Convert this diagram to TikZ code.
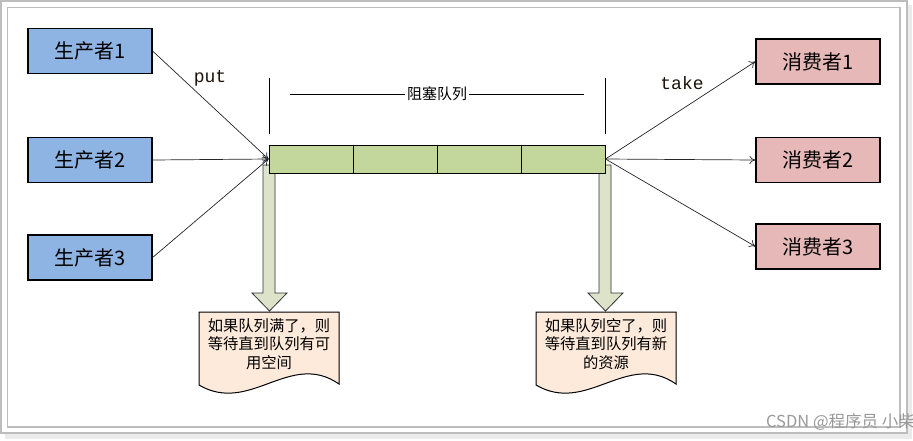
\documentclass[tikz,border=0pt]{standalone}
\usepackage{fontspec}
\newfontfamily\cjk{Noto Sans CJK SC}
\newfontfamily\monofnt{Liberation Mono}
\usetikzlibrary{arrows.meta}
\definecolor{prodblue}{HTML}{8EB4E3}
\definecolor{consred}{HTML}{E6B9B8}
\definecolor{queuegreen}{HTML}{C3D69B}
\definecolor{docpeach}{HTML}{FDEADA}
\definecolor{arrowgreen}{HTML}{DCE3C8}
\definecolor{framegray}{HTML}{BDBDBD}
\tikzset{
  actor/.style={draw=black, line width=1.2pt, minimum width=124pt, minimum height=45pt, inner sep=0pt, font=\cjk\fontsize{20}{22}\selectfont},
  prod/.style={actor, fill=prodblue},
  cons/.style={actor, fill=consred},
  cell/.style={draw=black, line width=1pt, fill=queuegreen, minimum width=84pt, minimum height=28pt, inner sep=0pt},
  conn/.style={draw=black!85, line width=0.7pt, -{To[length=6pt,width=8pt]}},
  bracket/.style={draw=black, line width=0.8pt},
  doctext/.style={align=center, inner sep=0pt, font=\cjk\fontsize{15.3}{18.5}\selectfont},
  docshape/.style={draw=black, line width=1pt, fill=docpeach},
  blockarrow/.style={draw=black!80, line width=0.8pt, fill=arrowgreen},
  lbl/.style={font=\monofnt\fontsize{18}{20}\selectfont, text=black!85!brown, inner sep=0pt}
}
\begin{document}
\begin{tikzpicture}[x=1pt,y=-1pt]
\useasboundingbox (0,0) rectangle (913,440);
% frame with shadow
\fill[black!8] (5,5) rectangle (912,439);
\fill[white] (1,1) rectangle (907,433);
\draw[framegray, line width=1.4pt] (1,1) rectangle (907,433);
\draw[framegray, line width=1.4pt] (7.5,7.5) rectangle (900,427);

% block arrows (behind queue)
\draw[blockarrow] (263,165) -- (275,165) -- (275,293) -- (287,293) -- (269.5,311) -- (252,293) -- (263,293) -- cycle;
\draw[blockarrow] (599,165) -- (611,165) -- (611,293) -- (623,293) -- (605.5,311) -- (588,293) -- (599,293) -- cycle;

% producers
\node[prod] (p1) at (90,51) {生产者1};
\node[prod] (p2) at (90,160) {生产者2};
\node[prod] (p3) at (90,257.5) {生产者3};
% consumers
\node[cons] (c1) at (818,61.5) {消费者1};
\node[cons] (c2) at (818,160) {消费者2};
\node[cons] (c3) at (818,246.5) {消费者3};

% queue
\node[cell] (q1) at (311,159) {};
\node[cell] (q2) at (395,159) {};
\node[cell] (q3) at (479,159) {};
\node[cell] (q4) at (563,159) {};

% bracket label
\coordinate (bl) at (269,78);
\coordinate (blb) at (269,134);
\coordinate (br) at (605,78);
\coordinate (brb) at (605,134);
\draw[bracket] (bl) -- (blb);
\draw[bracket] (br) -- (brb);
\node[font=\cjk\fontsize{15}{17}\selectfont, inner sep=2pt] (qlabel) at (437,94) {阻塞队列};
\coordinate (hl) at (290,94);
\coordinate (hr) at (584,94);
\draw[bracket] (hl) -- (qlabel.west);
\draw[bracket] (qlabel.east) -- (hr);

% connectors
\draw[conn] (p1.east) -- (q1.west);
\draw[conn] (p2.east) -- (q1.west);
\draw[conn] (p3.east) -- (q1.west);
\draw[conn] (q4.east) -- (c1.west);
\draw[conn] (q4.east) -- (c2.west);
\draw[conn] (q4.east) -- (c3.west);

\node[lbl] (put) at (210,78) {put};
\node[lbl] (take) at (682,83) {take};

% documents
\draw[docshape] (199,312) -- (339,312) -- (339,384) .. controls (290,350) and (250,415) .. (199,385) -- cycle;
\node[doctext] (d1) at (269,344) {如果队列满了，则\\等待直到队列有可\\用空间};
\draw[docshape] (536,312) -- (676,312) -- (676,384) .. controls (627,350) and (587,415) .. (536,385) -- cycle;
\node[doctext] (d2) at (606,344) {如果队列空了，则\\等待直到队列有新\\的资源};

% watermark
\node[anchor=east, text=black!40, font=\cjk\fontsize{16.5}{18}\selectfont, inner sep=0pt] (wm) at (915,422) {CSDN @程序员 小柴};
\end{tikzpicture}
\end{document}
